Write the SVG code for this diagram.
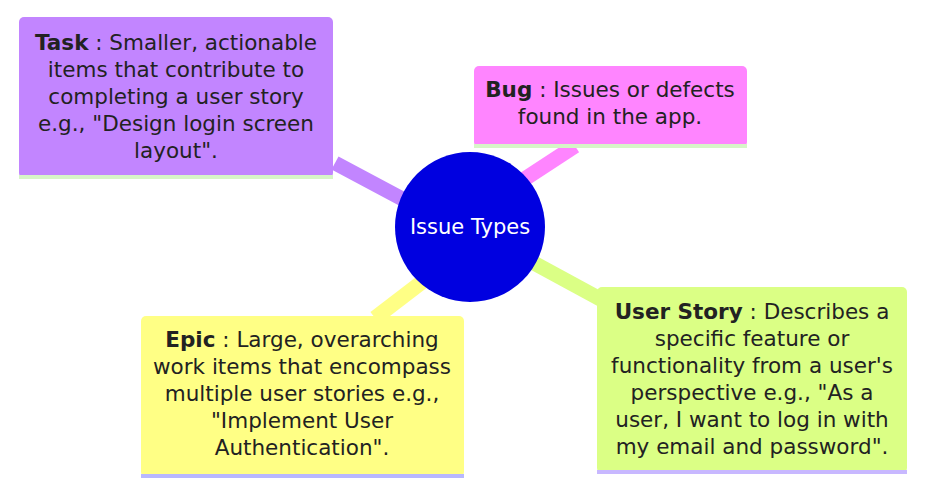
<svg xmlns="http://www.w3.org/2000/svg" width="930" height="498" viewBox="0 0 930 498">
<style>
text{font-family:"DejaVu Sans",Verdana,sans-serif;font-size:21.5px;fill:#222;text-anchor:middle}
.b{font-weight:bold}
.e{fill:none;stroke-width:15;stroke-linecap:butt}
</style>
<rect width="930" height="498" fill="#fff"/>
<g id="connectors">
<line class="e" x1="335" y1="163" x2="410" y2="203" stroke="#c285ff"/>
<line class="e" x1="520" y1="182" x2="575" y2="146" stroke="#ff85ff"/>
<line class="e" x1="532" y1="262" x2="602" y2="300" stroke="#dbff85"/>
<line class="e" x1="375" y1="318" x2="422" y2="282" stroke="#ffff85"/>
</g>
<g id="task">
<rect x="19" y="17" width="314" height="161" rx="5" fill="#c285ff"/>
<rect x="19" y="175" width="314" height="4" fill="#d7f5c8"/>
<text x="176" y="50"><tspan class="b">Task</tspan> : Smaller, actionable</text>
<text x="176" y="77">items that contribute to</text>
<text x="176" y="104">completing a user story</text>
<text x="176" y="131">e.g., "Design login screen</text>
<text x="176" y="158">layout".</text>
</g>
<g id="bug">
<rect x="474" y="66" width="273" height="81" rx="5" fill="#ff85ff"/>
<rect x="474" y="144" width="273" height="4" fill="#d7f5c8"/>
<text x="610" y="97"><tspan class="b">Bug</tspan> : Issues or defects</text>
<text x="610" y="124">found in the app.</text>
</g>
<g id="userstory">
<rect x="597" y="287" width="310" height="186" rx="5" fill="#dbff85"/>
<rect x="597" y="470" width="310" height="4" fill="#c8b8ff"/>
<text x="752" y="319"><tspan class="b">User Story</tspan> : Describes a</text>
<text x="752" y="346">specific feature or</text>
<text x="752" y="373">functionality from a user's</text>
<text x="752" y="400">perspective e.g., "As a</text>
<text x="752" y="427">user, I want to log in with</text>
<text x="752" y="454">my email and password".</text>
</g>
<g id="epic">
<rect x="141" y="316" width="323" height="161" rx="5" fill="#ffff85"/>
<rect x="141" y="474" width="323" height="4" fill="#b8b8ff"/>
<text x="302" y="347"><tspan class="b">Epic</tspan> : Large, overarching</text>
<text x="302" y="374">work items that encompass</text>
<text x="302" y="401">multiple user stories e.g.,</text>
<text x="302" y="428">"Implement User</text>
<text x="302" y="455">Authentication".</text>
</g>
<g id="root">
<circle cx="470" cy="227" r="75" fill="#0000e0"/>
<text x="470" y="234" style="fill:#fff;font-size:21px">Issue Types</text>
</g>
</svg>
